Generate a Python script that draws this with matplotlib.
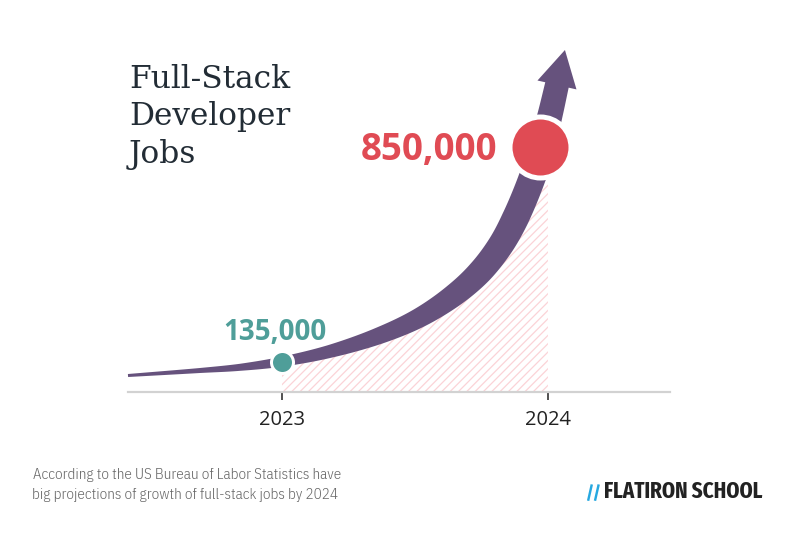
import numpy as np
import matplotlib
matplotlib.use("Agg")
import matplotlib.pyplot as plt
from matplotlib.patches import Polygon
from matplotlib import font_manager
from matplotlib.font_manager import FontProperties
from matplotlib.textpath import TextPath

# ---------------- data ----------------
years = [2023, 2024]
year_labels = ["2023", "2024"]
marker_years = [2023.0, 2023.970]
job_values = [135000, 850000]
value_labels = ["135,000", "850,000"]

# centre line of the growth band
curve_years = [2022.421, 2022.692, 2022.842, 2023.0, 2023.180, 2023.368, 2023.519,
               2023.650, 2023.744, 2023.820, 2023.876, 2023.940, 2023.977, 2024.008,
               2024.034]
curve_values = [88900, 105600, 116200, 135000, 169200, 222400, 282400,
                358300, 433200, 519800, 609700, 745600, 850000, 956400,
                1056300]
arrow_tip = (2024.064, 1172700)

title_lines = ["Full-Stack", "Developer", "Jobs"]
footer_lines = ["According to the US Bureau of Labor Statistics have",
                "big projections of growth of full-stack jobs by 2024"]
logo_mark = "//"
logo_text = "FLATIRON SCHOOL"

# ---------------- style ----------------
band_widths = [3, 5, 7, 10, 13, 17, 20, 23, 25, 26, 27, 27, 27, 25, 24]  # px
PURPLE = "#66527d"
RED = "#e04b54"
TEAL = "#4f9e99"
PINK = "#fbd3d7"

avail = {f.name for f in font_manager.fontManager.ttflist}


def pick(*names):
    for n in names:
        if n in avail:
            return n
    return "DejaVu Sans"


def wnum(w):
    return w if isinstance(w, (int, float)) else font_manager.weight_dict.get(w, 400)


def cond_candidates(weights):
    out = []
    for f in font_manager.fontManager.ttflist:
        fn = f.fname.lower()
        base = fn.rsplit("/", 1)[-1]
        if not base.endswith((".ttf", ".otf")):
            continue
        if not ("condensed" in base or "narrow" in base):
            continue
        if "italic" in base or "oblique" in base or "mono" in base or "cjk" in base:
            continue
        if "serif" in base and "sans" not in base:
            continue
        if f.style != "normal" or wnum(f.weight) not in weights:
            continue
        out.append(f.fname)
    return sorted(set(out))[:40]


def best_font(weights, s, target_ratio, fallback):
    cands = [FontProperties(fname=fn) for fn in cond_candidates(weights)] + [fallback]
    best, bd = fallback, 1e9
    for fp in cands:
        try:
            ext_s = TextPath((0, 0), s, size=50, prop=fp).get_extents()
            ext_h = TextPath((0, 0), "H", size=50, prop=fp).get_extents()
            if ext_h.height <= 0:
                continue
            r = ext_s.width / ext_h.height
            dd = abs(np.log(r / target_ratio))
            if dd < bd:
                best, bd = fp, dd
        except Exception:
            continue
    return best


SANS = pick("Open Sans", "DejaVu Sans")
SERIF = pick("DejaVu Serif", "Liberation Serif")

FOOT_FP = best_font({300, 400}, footer_lines[0], 305 / 10.5,
                    FontProperties(family=pick("Roboto", "Open Sans")))
LOGO_FP = best_font({700, 800}, logo_text, 158 / 16.0,
                    FontProperties(family=pick("Roboto", "Open Sans"), weight="bold"))

W, H = 800, 533
fig = plt.figure(figsize=(W / 100, H / 100), dpi=100)

ax = fig.add_axes([128 / W, (H - 392) / H, 542 / W, 352 / H])
ax.set_xlim(2022.421, 2024.459)
ax.set_ylim(34000, 1206000)
for s in ["left", "right", "top"]:
    ax.spines[s].set_visible(False)
ax.spines["bottom"].set_color("#d2d2d2")
ax.spines["bottom"].set_linewidth(1.6)
ax.set_yticks([])
ax.set_xticks(years, year_labels)
ax.tick_params(axis="x", direction="out", length=6, width=1.2, color="#333333",
               labelsize=14.5, labelcolor="#222222", pad=7)
for lab in ax.get_xticklabels():
    lab.set_fontfamily(SANS)

fig.canvas.draw()

# ---------- band geometry in pixel space ----------
P = ax.transData.transform(np.column_stack([curve_years, curve_values]))
wid = np.array(band_widths, dtype=float)


def centripetal(P, wid, n=40, alpha=0.5):
    Pe = np.vstack([2 * P[0] - P[1], P, 2 * P[-1] - P[-2]])
    pts, ws = [], []
    for i in range(len(P) - 1):
        p0, p1, p2, p3 = Pe[i], Pe[i + 1], Pe[i + 2], Pe[i + 3]
        t0 = 0.0
        t1 = t0 + np.linalg.norm(p1 - p0) ** alpha
        t2 = t1 + np.linalg.norm(p2 - p1) ** alpha
        t3 = t2 + np.linalg.norm(p3 - p2) ** alpha
        t = np.linspace(t1, t2, n, endpoint=(i == len(P) - 2))[:, None]
        A1 = (t1 - t) / (t1 - t0) * p0 + (t - t0) / (t1 - t0) * p1
        A2 = (t2 - t) / (t2 - t1) * p1 + (t - t1) / (t2 - t1) * p2
        A3 = (t3 - t) / (t3 - t2) * p2 + (t - t2) / (t3 - t2) * p3
        B1 = (t2 - t) / (t2 - t0) * A1 + (t - t0) / (t2 - t0) * A2
        B2 = (t3 - t) / (t3 - t1) * A2 + (t - t1) / (t3 - t1) * A3
        Cc = (t2 - t) / (t2 - t1) * B1 + (t - t1) / (t2 - t1) * B2
        pts.append(Cc)
        u = (t[:, 0] - t1) / (t2 - t1)
        ws.append(wid[i] + (wid[i + 1] - wid[i]) * u)
    return np.vstack(pts), np.concatenate(ws)


C, Wd = centripetal(P, wid)
T = np.gradient(C, axis=0)
T /= np.linalg.norm(T, axis=1)[:, None]
N = np.column_stack([-T[:, 1], T[:, 0]])
left = C + N * Wd[:, None] / 2
right = C - N * Wd[:, None] / 2

tip = ax.transData.transform([arrow_tip])[0]
end = C[-1]
d = (tip - end) / np.linalg.norm(tip - end)
n_end = np.array([-d[1], d[0]])
head = [end + n_end * 20, tip, end - n_end * 20]
poly_px = np.vstack([left, head, right[::-1]])
poly = ax.transData.inverted().transform(poly_px)

# hatched area under the curve between 2023 and 2024
x0, x1 = ax.transData.transform([[2023, 0], [2024, 0]])[:, 0]
base_y = ax.transData.transform([[2023, 34000]])[0, 1]
mask = (C[:, 0] >= x0) & (C[:, 0] <= x1)
yend = np.interp(x1, C[:, 0], C[:, 1])
hatch_px = np.vstack([[x0, base_y], C[mask], [x1, yend], [x1, base_y]])
hatch_poly = ax.transData.inverted().transform(hatch_px)
plt.rcParams["hatch.linewidth"] = 0.9
ax.add_patch(Polygon(hatch_poly, closed=True, facecolor="white", edgecolor=PINK,
                     hatch="////", linewidth=0, zorder=1))

ax.add_patch(Polygon(poly, closed=True, facecolor=PURPLE, edgecolor="none",
                     zorder=2, clip_on=False))

# markers
px2pt = 72 / 100
ax.plot(marker_years[0], job_values[0], "o", ms=22 * px2pt, mfc=TEAL, mec="white",
        mew=3 * px2pt, zorder=3, clip_on=False)
ax.plot(marker_years[1], job_values[1], "o", ms=61 * px2pt, mfc=RED, mec="white",
        mew=5 * px2pt, zorder=3, clip_on=False)

ax.annotate(value_labels[0], (marker_years[0], job_values[0]), xytext=(-7, 22),
            textcoords="offset pixels", ha="center", va="baseline",
            fontsize=20, fontweight="bold", color=TEAL, family=SANS, zorder=4)
ax.annotate(value_labels[1], (marker_years[1], job_values[1]), xytext=(-43, -13),
            textcoords="offset pixels", ha="right", va="baseline",
            fontsize=26.5, fontweight="bold", color=RED, family=SANS, zorder=4)

# title
for i, line in enumerate(title_lines):
    fig.text(129 / W, 1 - (88.5 + 37 * i) / H, line, fontsize=22.5, family=SERIF,
             color="#222c35", ha="left", va="baseline")


def fit_text(x, y, s, fp, target_w, **kw):
    fp = fp.copy()
    ext = TextPath((0, 0), s, size=50, prop=fp).get_extents()
    # TextPath units are points; 1 pt = 100/72 px at dpi 100
    w_pt_per_size = ext.width / 50
    size_pt = target_w / (w_pt_per_size * 100 / 72)
    fp.set_size(size_pt)
    x_adj = x - (ext.x0 / 50) * size_pt * 100 / 72
    return fig.text(x_adj / W, 1 - y / H, s, fontproperties=fp, ha="left",
                    va="baseline", **kw)


# footer
fit_text(33, 479, footer_lines[0], FOOT_FP, 304, color="#666666")
fit_text(33, 499, footer_lines[1], FOOT_FP, 303, color="#666666")

fit_text(586, 498.5, logo_mark, LOGO_FP, 14, color="#27a8e0")
fit_text(605, 498.5, logo_text, LOGO_FP, 158, color="#222222")

fig.savefig("out.png", dpi=100, facecolor="white")
